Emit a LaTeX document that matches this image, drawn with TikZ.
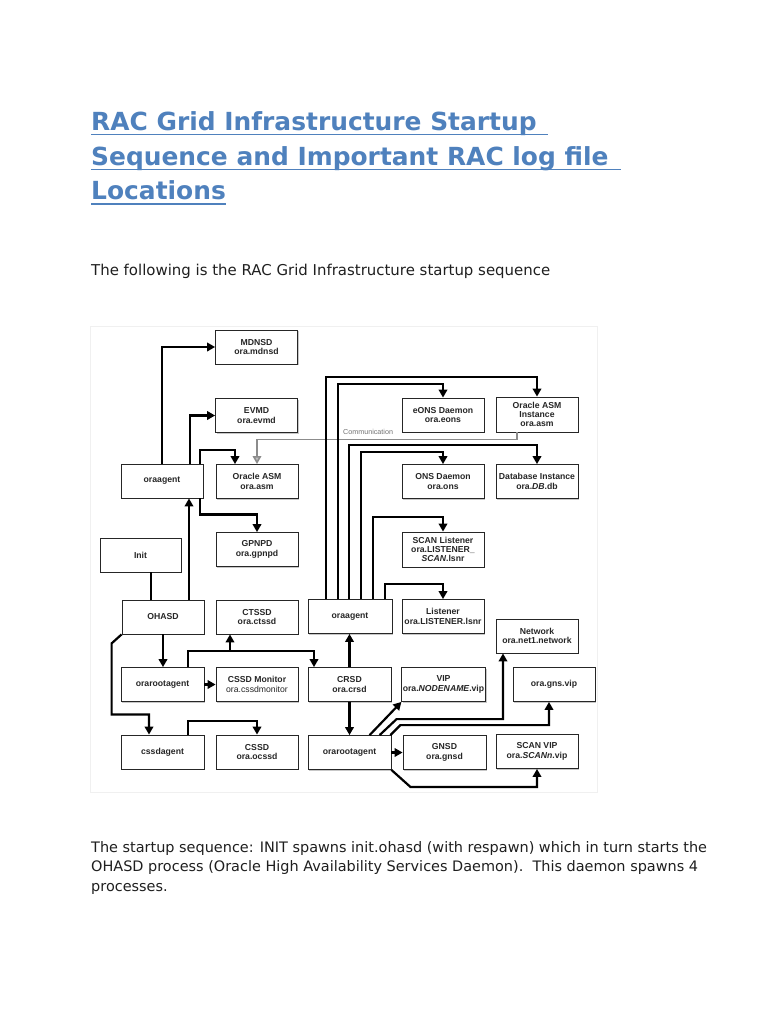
\documentclass[tikz,border=0pt]{standalone}
\usepackage{fontspec}
\setmainfont{DejaVu Sans}
\newfontfamily\arialf{Liberation Sans}
\usetikzlibrary{arrows.meta,shadows,calc}
\definecolor{titleblue}{RGB}{79,129,189}
\begin{document}
\begin{tikzpicture}[x=1bp,y=-1bp,
  box/.style={draw=black!85,line width=0.8bp,fill=white,minimum width=82bp,minimum height=34bp,
    inner sep=1bp,align=center,text=black!85,
    font=\arialf\bfseries\fontsize{8.7}{9.4}\selectfont,
    drop shadow={shadow xshift=1.3bp,shadow yshift=-1.3bp,fill=black!22,opacity=1}},
  conn/.style={draw=black,line width=2.2bp,line join=miter,-{Triangle[length=8bp,width=8.5bp]}},
  plain/.style={draw=black,line width=2.2bp,line join=miter},
  comm/.style={draw=black!45,line width=1.6bp,-{Triangle[length=8bp,width=8.5bp,fill=black!25]}},
  ttl/.style={anchor=base west,inner sep=0pt,text=titleblue,font=\bfseries\fontsize{25}{30}\selectfont},
  body/.style={anchor=base west,inner sep=0pt,text=black!88,font=\fontsize{15}{18}\selectfont},
  bodyb/.style={anchor=base west,inner sep=0pt,text=black!88,font=\fontsize{14.5}{18}\selectfont},
  uline/.style={draw=titleblue,line width=1.7bp}]
\fill[white] (0,0) rectangle (768,1024);
\useasboundingbox (0,0) rectangle (768,1024);

% ---------- title and text ----------
\node[ttl] (t1) at (91,130) {RAC Grid Infrastructure Startup};
\node[ttl] (t2) at (91,165) {Sequence and Important RAC log file};
\node[ttl] (t3) at (91,199.5) {Locations};
\draw[uline] (91,134.5) -- (548,134.5);
\draw[uline] (91,169.5) -- (621,169.5);
\draw[uline] (91,204) -- (226,204);
\node[body] (p0) at (91,275) {The following is the RAC Grid Infrastructure startup sequence};
\node[bodyb] (p1) at (91,852) {The startup sequence: INIT spawns init.ohasd (with respawn) which in turn starts the};
\node[bodyb] (p2) at (91,871.5) {OHASD process (Oracle High Availability Services Daemon).\ \ This daemon spawns 4};
\node[bodyb] (p3) at (91,891) {processes.};

% faint frame of the figure
\draw[black!6,line width=0.8bp] (90,326) rectangle (597,792);

% ---------- boxes ----------
\node[box] (mdnsd)   at (256.5,347)   {MDNSD\\ora.mdnsd};
\node[box] (evmd)    at (256.5,415.5) {EVMD\\ora.evmd};
\node[box] (asmL)    at (257,481.5)   {Oracle ASM\\ora.asm};
\node[box] (oraL)    at (162,481)     {oraagent};
\node[box] (gpnpd)   at (257,549.5)   {GPNPD\\ora.gpnpd};
\node[box,minimum width=81bp] (init) at (140.5,555) {Init};
\node[box] (ohasd)   at (163,617)     {OHASD};
\node[box] (ctssd)   at (257,617)     {CTSSD\\ora.ctssd};
\node[box,minimum width=83bp] (orarootL) at (162.5,684.5) {orarootagent};
\node[box] (cssdmon) at (257,684.5)   {CSSD Monitor\\{\mdseries ora.cssdmonitor}};
\node[box,minimum width=83bp] (cssdagent) at (162.5,752) {cssdagent};
\node[box] (cssd)    at (257,752)     {CSSD\\ora.ocssd};

\node[box] (eons)    at (443,415)     {eONS Daemon\\ora.eons};
\node[box,minimum height=35bp] (asmI) at (537,414.5) {Oracle ASM\\Instance\\ora.asm};
\node[box] (ons)     at (443,481.5)   {ONS Daemon\\ora.ons};
\node[box] (dbI)     at (537,481.5)   {Database Instance\\ora.\textit{DB}.db};
\node[box,minimum height=35bp] (scanL) at (443,549.5) {SCAN Listener\\ora.LISTENER\_\\\textit{SCAN}.lsnr};
\node[box,minimum width=84bp] (oraR) at (350,616.5) {oraagent};
\node[box] (listener) at (443,616.5)  {Listener\\ora.LISTENER.lsnr};
\node[box] (network) at (537,636)     {Network\\ora.net1.network};
\node[box,minimum width=83bp] (crsd) at (349.5,684.5) {CRSD\\ora.crsd};
\node[box,minimum width=83bp] (vip)  at (443.5,684.5) {VIP\\ora.\textit{NODENAME}.vip};
\node[box] (gnsvip)  at (554,684.5)   {ora.gns.vip};
\node[box,minimum width=83bp] (orarootR) at (349.5,752.5) {orarootagent};
\node[box,minimum width=83bp] (gnsd) at (444.5,752.5) {GNSD\\ora.gnsd};
\node[box] (scanvip) at (537,751.5)   {SCAN VIP\\ora.\textit{SCANn}.vip};

% ---------- communication (gray) ----------
\draw[comm] ($(asmI.south)+(-20,0)$) -- ++(0,7) -| (asmL.north);
\node[anchor=base west,inner sep=0pt,text=black!55,font=\arialf\fontsize{7.2}{8}\selectfont] (commlbl) at (343,434) {Communication};

% ---------- left column connectors ----------
\draw[conn] (oraL.north) |- (mdnsd.west);
\draw[conn] ($(oraL.north)+(28,0)$) |- (evmd.west);
\draw[conn] ($(oraL.north)+(38,0)$) -- ++(0,-14) -| ($(asmL.north)+(-22,0)$);
\draw[conn] ($(oraL.south)+(38,0)$) -- ++(0,16) -| (gpnpd.north);

\coordinate (i1) at ($(init.south)+(10.5,0)$);
\draw[plain] (i1) -- (i1 |- ohasd.north);
\coordinate (o1) at ($(ohasd.north)+(26,0)$);
\draw[conn] (o1) -- (o1 |- oraL.south);
\draw[conn] (ohasd.south) -- (ohasd.south |- orarootL.north);
\draw[conn] (ohasd.south west) -- ++(-10,9) -- ++(0,71) -| ($(cssdagent.north)+(-13.5,0)$);

\draw[conn] ($(orarootL.north)+(25.5,0)$) -- ++(0,-16) coordinate (bj) -| ($(crsd.north)+(-35.5,0)$);
\coordinate (ctA) at ($(ctssd.south)+(-27,0)$);
\draw[conn] (bj -| ctA) -- (ctA);
\draw[conn] (orarootL.east) -- (cssdmon.west);
\draw[conn] ($(cssdagent.north)+(25.5,0)$) -- ++(0,-14) -| (cssd.north);

% ---------- CRSD ----------
\draw[conn] (crsd.north) -- (crsd.north |- oraR.south);
\draw[conn] (crsd.south) -- (crsd.south |- orarootR.north);

% ---------- right oraagent ----------
\draw[conn] ($(oraR.north west)+(18,0)$) -- ++(0,-222) -| (asmI.north);
\draw[conn] ($(oraR.north west)+(30,0)$) -- ++(0,-215) -| (eons.north);
\draw[conn] ($(oraR.north west)+(41,0)$) -- ++(0,-154) -| (dbI.north);
\draw[conn] ($(oraR.north west)+(53,0)$) -- ++(0,-147) -| (ons.north);
\draw[conn] ($(oraR.north west)+(65,0)$) -- ++(0,-82) -| (scanL.north);
\draw[conn] ($(oraR.north west)+(77,0)$) -- ++(0,-15) -| (listener.north);

% ---------- right orarootagent ----------
\draw[conn] ($(orarootR.north west)+(62,0)$) -- (vip.south west);
\draw[conn] ($(orarootR.north west)+(72,0)$) -- ++(17,-16) -| ($(network.south)+(-34,0)$);
\draw[conn] ($(orarootR.north east)+(-1,0)$) -- ++(10,-10) -| ($(gnsvip.south)+(-5,0)$);
\draw[conn] (orarootR.east) -- (gnsd.west);
\draw[conn] (orarootR.south east) -- ++(19,17) -| (scanvip.south);
\end{tikzpicture}
\end{document}
